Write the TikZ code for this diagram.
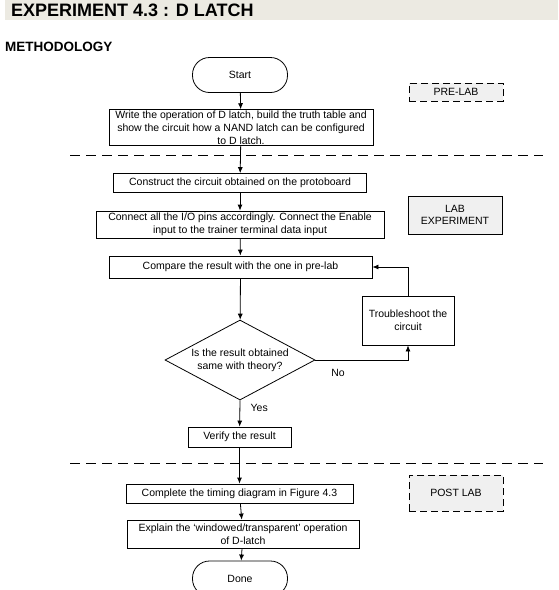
\documentclass[tikz,border=0pt]{standalone}
\usepackage{fontspec}
\setmainfont{Liberation Sans}
\usepackage{tikz}
\usetikzlibrary{positioning,arrows.meta,shapes.geometric,calc}
\definecolor{bandgray}{HTML}{ECEAE2}
\definecolor{taggray}{HTML}{F0F0F0}
\tikzset{
  stepbox/.style={draw,thick,fill=white,align=center,inner sep=1pt,minimum height=19pt,font=\fontsize{10.5}{13}\selectfont},
  termbox/.style={draw,thick,rounded corners=17pt,minimum width=95pt,minimum height=35pt,font=\fontsize{10.5}{13}\selectfont},
  decbox/.style={draw,thick,diamond,aspect=1.875,inner sep=0pt,minimum width=150pt,minimum height=80pt,align=center,font=\fontsize{10.5}{13}\selectfont},
  tagbox/.style={draw,thick,fill=taggray,align=center,minimum width=94pt,font=\fontsize{10.5}{12}\selectfont},
  tagdash/.style={dash pattern=on 7pt off 4pt},
  arr/.style={thick,-{Latex[length=6pt,width=5pt]}},
  sep/.style={thick,dash pattern=on 10pt off 6pt}
}
\begin{document}
\begin{tikzpicture}[x=1pt,y=-1pt]
  \useasboundingbox (0,0) rectangle (558,590);
  \clip (0,0) rectangle (558,590);
  % heading
  \fill[bandgray] (5,0) rectangle (558,20);
  \node[anchor=west,font=\fontsize{18}{20}\selectfont\bfseries,inner sep=0pt] (title) at (11,10) {EXPERIMENT 4.3 : D LATCH};
  \node[anchor=west,font=\fontsize{13.5}{15}\selectfont\bfseries,inner sep=0pt] (meth) at (5,47) {METHODOLOGY};
  % phase tags
  \node[tagbox,tagdash,minimum height=18pt] (pre) at (456,92) {PRE-LAB};
  \node[tagbox,minimum height=38pt] (lab) at (455,215) {LAB\\EXPERIMENT};
  \node[tagbox,tagdash,minimum height=36pt] (post) at (456,493) {POST LAB};
  \draw[sep] (70,155) -- (543,155);
  \draw[sep] (70,463) -- (543,463);
  % flow
  \node[termbox] (start) at (240,75) {Start};
  \node[stepbox,minimum width=264pt] (write) at (241,127.5) {Write the operation of D latch, build the truth table and\\show the circuit\ how a NAND latch can be configured\\to D latch.};
  \node[stepbox,minimum width=253pt] (build) at (240,183) {Construct the circuit obtained on the protoboard};
  \node[stepbox,minimum width=288pt,minimum height=27pt] (wire) at (240,224.5) {Connect all the I/O pins accordingly. Connect the Enable\\input to the trainer terminal data input};
  \node[stepbox,minimum width=263pt,minimum height=22pt] (cmp) at (240.5,267) {Compare the result with the one in pre-lab};
  \node[decbox] (dec) at (240,360) {Is the result obtained\\same with theory?};
  \node[stepbox,minimum width=92pt,minimum height=49pt] (trb) at (408,320.5) {Troubleshoot the\\circuit};
  \node[stepbox,minimum width=103pt,minimum height=20pt] (ver) at (239.5,437) {Verify the result};
  \node[stepbox,minimum width=227pt] (timing) at (239.5,493.5) {Complete the timing diagram in Figure 4.3};
  \node[stepbox,minimum width=232pt,minimum height=28pt] (expl) at (243,534) {Explain the `windowed/transparent' operation\\of D-latch};
  \node[termbox] (done) at (240,578.5) {Done};
  \draw[arr] (start) -- (write);
  \draw[arr] (write) -- (build);
  \draw[arr] (build) -- (wire);
  \draw[arr] (wire) -- (cmp);
  \draw[arr] (cmp) -- (dec);
  \draw[arr] (dec.east) -| (trb.south);
  \draw[arr] (trb.north) |- (cmp.east);
  \draw[arr] (dec.south) -- node[right=7pt,pos=0.3,font=\fontsize{10.5}{12}\selectfont] {Yes} (ver);
  \node[font=\fontsize{10.5}{12}\selectfont] (no) at (338,373) {No};
  \draw[arr] (ver) -- (timing);
  \draw[arr] (timing) -- (expl);
  \draw[arr] (expl) -- (done);
\end{tikzpicture}
\end{document}
